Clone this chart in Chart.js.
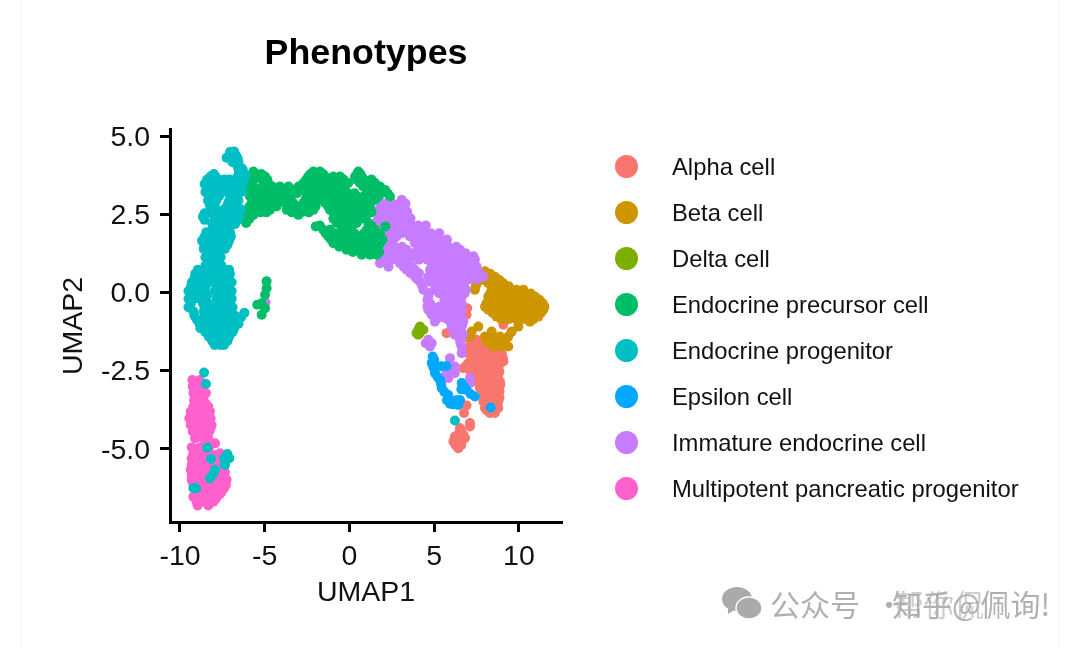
<!DOCTYPE html>
<html>
<head>
<meta charset="utf-8">
<title>Phenotypes</title>
<script src="https://cdn.jsdelivr.net/npm/chart.js@4"></script>
<style>
    html, body { margin: 0; padding: 0; background: #fff; }
    #page { position: relative; width: 1036px; height: 648px; margin-left: 20px; background: #fff; overflow: hidden; border-left: 2px solid #fafafa; border-right: 2px solid #fafafa; }
    #plot { position: absolute; left: -22px; top: 0; width: 732px; height: 648px; }
    #legend { position: absolute; left: 593px; top: 143px; font: 23.8px "Liberation Sans", Arial, sans-serif; color: #111; }
    #legend div { display: flex; align-items: center; height: 46px; white-space: nowrap; }
    #legend i { width: 23px; height: 23px; border-radius: 50%; margin-right: 34px; }
    #legend span { position: relative; top: 1px; }
    #mark { position: absolute; left: 748px; top: 583px; font: 30px "Noto Sans CJK SC", sans-serif; color: #b0b0b0; white-space: nowrap; line-height: 40px; }
    #mark span { position: absolute; top: 0; }
    #icon { position: absolute; left: 700px; top: 586px; }
</style>
</head>
<body>
<div id="page">
    <div id="plot"><canvas id="umap"></canvas></div>
    <div id="legend"></div>
    <svg id="icon" width="42" height="36" viewBox="0 0 42 36">
        <ellipse cx="15" cy="13" rx="15" ry="12" fill="#aaa"/>
        <path d="M6 20 L6 28 L14 23 Z" fill="#aaa"/>
        <ellipse cx="27" cy="22" rx="13" ry="11" fill="#aaa" stroke="#fff" stroke-width="1.5"/>
    </svg>
    <div id="mark">
        <span style="left:0">公众号</span>
        <span style="left:104px">·</span>
        <span style="left:122px">知乎@佩询!</span>
        <span style="left:124px;opacity:.6">帮你侃</span>
    </div>
</div>

<script>
const chartTitle = "Phenotypes";
const xAxisTitle = "UMAP1";
const yAxisTitle = "UMAP2";
const xTicks = [-10, -5, 0, 5, 10];
const yTicks = [-5, -2.5, 0, 2.5, 5];

const categories = [
    "Alpha cell", "Beta cell", "Delta cell", "Endocrine precursor cell",
    "Endocrine progenitor", "Epsilon cell", "Immature endocrine cell",
    "Multipotent pancreatic progenitor"
];
const colors = ["#F8766D", "#CD9600", "#7CAE00", "#00BE67", "#00BFC4", "#00A9FF", "#C77CFF", "#FF61CC"];
// lower number is painted on top
const paintOrder = [7, 6, 5, 3, 0, 1, 4, 2];

const alphaCell = [
    [6.95,-0.5],[6.91,-0.71],[9.08,-1.03],[5.73,-1.3],[7.11,-1.51],[7.5,-1.51],[9.08,-1.51],
    [7.11,-1.73],[7.5,-1.73],[7.99,-1.73],[7.01,-1.94],[7.5,-1.94],[7.99,-1.94],[8.49,-1.94],[8.98,-1.94],
    [7.11,-2.21],[7.6,-2.21],[8.09,-2.21],[8.58,-2.21],[9.08,-2.21],[6.72,-2.42],[7.21,-2.42],[7.7,-2.42],[8.19,-2.42],[8.68,-2.42],
    [7.4,-2.64],[7.9,-2.64],[8.39,-2.64],[8.78,-2.64],[7.5,-2.85],[7.99,-2.85],[8.49,-2.85],[8.88,-2.85],
    [7.7,-3.06],[8.19,-3.06],[8.68,-3.06],[7.9,-3.28],[8.39,-3.28],[8.78,-3.28],[7.9,-3.49],[8.39,-3.49],[8.78,-3.49],
    [7.99,-3.7],[8.49,-3.7],[8.78,-3.7],[8.29,-3.86],[8.58,-3.86],
    [6.91,-3.62],[6.76,-3.86],[7.11,-4.18],[7.11,-4.29],[6.52,-4.34],[6.72,-4.56],[6.22,-4.61],[6.82,-4.66],[6.13,-4.77],[6.52,-4.77],[6.42,-4.99],
    [7.3,-1.62],[7.75,-1.62],[7.3,-1.85],[7.75,-1.85],[8.25,-1.85],[8.7,-1.85],[7.25,-2.08],[7.75,-2.08],[8.3,-2.08],[8.8,-2.08],[9.05,-2.08],
    [6.95,-2.3],[7.45,-2.3],[7.95,-2.3],[8.4,-2.3],[8.85,-2.3],[7.15,-2.53],[7.65,-2.53],[8.15,-2.53],[8.6,-2.53],[8.85,-2.53],
    [7.25,-2.75],[7.75,-2.75],[8.2,-2.75],[8.7,-2.75],[7.7,-2.95],[8.2,-2.95],[8.65,-2.95],[8.9,-2.95],[7.95,-3.17],[8.45,-3.17],[8.85,-3.17],
    [8.1,-3.38],[8.6,-3.38],[8.85,-3.38],[8.2,-3.6],[8.65,-3.6],[8.1,-3.78],[8.4,-3.78],[6.4,-4.7],[6.65,-4.7],[6.25,-4.88],[6.6,-4.88],[6.5,-4.45],[6.6,-4.45]
];
const betaCell = [
    [7.99,0.68],[8.19,0.51],[8.58,0.51],[7.5,0.3],[8.19,0.3],[8.68,0.3],[9.08,0.3],
    [7.4,0.09],[8.39,0.09],[8.88,0.09],[9.37,0.09],[9.86,0.09],[10.26,0.09],
    [8.19,-0.13],[8.58,-0.13],[9.08,-0.13],[9.57,-0.13],[10.06,-0.13],[10.55,-0.13],[10.95,-0.13],
    [8.09,-0.34],[8.58,-0.34],[9.08,-0.34],[9.57,-0.34],[10.06,-0.34],[10.55,-0.34],[11.04,-0.34],[11.4,-0.34],
    [8.19,-0.55],[8.68,-0.55],[9.18,-0.55],[9.67,-0.55],[10.16,-0.55],[10.65,-0.55],[11.14,-0.55],[11.44,-0.55],
    [8.68,-0.77],[9.18,-0.77],[9.67,-0.77],[10.26,-0.77],[10.75,-0.77],[11.14,-0.77],[9.96,-0.93],[10.65,-0.93],
    [7.6,-1.09],[9.96,-1.09],[7.21,-1.25],[8.39,-1.25],[9.57,-1.25],
    [7.11,-1.41],[7.99,-1.41],[8.49,-1.41],[8.88,-1.41],[9.37,-1.41],[8.09,-1.57],[8.58,-1.57],[9.08,-1.57],
    [8.49,-1.73],[8.98,-1.73],[9.37,-1.73],
    [8.3,0.6],[7.7,0.4],[8.0,0.4],[8.45,0.4],[8.85,0.4],[7.45,0.2],[8.6,0.2],[9.0,0.2],[9.4,0.2],
    [8.3,-0.03],[8.8,-0.03],[9.3,-0.03],[9.75,-0.03],[10.2,-0.03],[10.7,-0.03],
    [8.35,-0.23],[8.8,-0.23],[9.3,-0.23],[9.8,-0.23],[10.3,-0.23],[10.8,-0.23],[11.2,-0.23],
    [8.0,-0.45],[8.4,-0.45],[8.9,-0.45],[9.4,-0.45],[9.9,-0.45],[10.4,-0.45],[10.85,-0.45],[11.3,-0.45],[11.5,-0.45],
    [8.45,-0.65],[8.95,-0.65],[9.4,-0.65],[9.9,-0.65],[10.4,-0.65],[10.9,-0.65],[11.3,-0.65],
    [8.95,-0.85],[9.4,-0.85],[9.85,-0.85],[10.4,-0.85],[10.85,-0.85],[8.3,-1.5],[8.75,-1.5],[9.2,-1.5],[8.75,-1.65],[9.2,-1.65]
];
const deltaCell = [[4.16,-1.09],[3.96,-1.3],[4.36,-1.19],[4.06,-1.35],[4.25,-1.2],[4.15,-1.3],[4.05,-1.2]];
const endocrinePrecursor = [
    [-5.67,3.88],[-2.13,3.88],[-1.74,3.88],[0.52,3.88],
    [-5.44,3.72],[-4.98,3.72],[-2.43,3.72],[-1.93,3.72],[-1.44,3.72],[-0.95,3.72],[-0.56,3.72],[0.33,3.72],[0.72,3.72],
    [-5.87,3.51],[-4.79,3.51],[-2.72,3.51],[-2.23,3.51],[-1.74,3.51],[-1.15,3.51],[-0.56,3.51],[-0.07,3.51],[0.62,3.51],[1.11,3.51],[1.51,3.51],
    [-5.97,3.29],[-5.38,3.29],[-4.89,3.29],[-3.9,3.29],[-3.31,3.29],[-2.82,3.29],[-2.33,3.29],[-1.74,3.29],[-0.95,3.29],[-0.46,3.29],[1.02,3.29],[1.61,3.29],[2.1,3.29],
    [-5.87,3.08],[-5.28,3.08],[-4.69,3.08],[-3.9,3.08],[-3.47,3.08],[-2.33,3.08],[-1.93,3.08],[-1.35,3.08],[-0.76,3.08],[-0.17,3.08],[0.43,3.08],[0.82,3.08],[1.7,3.08],[2.39,3.08],
    [-5.77,2.87],[-5.08,2.87],[-4.49,2.87],[-3.8,2.87],[-3.31,2.87],[-2.72,2.87],[-2.23,2.87],[-1.44,2.87],[-0.95,2.87],[-0.36,2.87],[0.23,2.87],[0.92,2.87],
    [-6.03,2.65],[-5.48,2.65],[-4.69,2.65],[-3.7,2.65],[-3.12,2.65],[-2.62,2.65],[-2.13,2.65],[-1.15,2.65],[-0.56,2.65],[0.03,2.65],[0.62,2.65],[1.11,2.65],
    [-6.16,2.49],[-5.67,2.49],[-3.02,2.49],[-0.85,2.49],[-0.26,2.49],[0.33,2.49],[1.02,2.49],
    [-6.1,2.23],[-0.76,2.23],[-0.17,2.23],[0.43,2.23],[1.11,2.23],[-1.99,2.12],[2.12,2.12],
    [-1.54,2.01],[-1.15,2.01],[-0.46,2.01],[0.13,2.01],[1.02,2.01],[1.51,2.01],
    [-1.25,1.8],[-0.66,1.8],[-0.07,1.8],[0.52,1.8],[1.21,1.8],[1.61,1.8],
    [-0.95,1.58],[-0.36,1.58],[0.23,1.58],[0.82,1.58],[1.31,1.58],[1.8,1.58],
    [-0.17,1.37],[0.43,1.37],[1.02,1.37],[1.51,1.37],[0.72,1.21],[1.21,1.21],[1.61,1.21],
    [-4.89,0.36],[-4.89,0.14],[-4.98,-0.07],[-5.18,-0.34],[-5.44,-0.39],[-4.98,-0.5],[-5.18,-0.71],
    [-5.55,3.8],[-5.2,3.8],[-2.3,3.8],[-1.9,3.8],[-1.55,3.8],[0.45,3.8],[0.65,3.8],
    [-5.7,3.62],[-5.2,3.62],[-4.85,3.62],[-2.55,3.62],[-2.1,3.62],[-1.65,3.62],[-1.2,3.62],[-0.75,3.62],[-0.35,3.62],[0.4,3.62],[0.85,3.62],[1.3,3.62],
    [-5.65,3.4],[-5.1,3.4],[-4.55,3.4],[-4.1,3.4],[-3.6,3.4],[-3.0,3.4],[-2.5,3.4],[-2.0,3.4],[-1.45,3.4],[-0.75,3.4],[-0.25,3.4],[0.8,3.4],[1.35,3.4],[1.8,3.4],
    [-5.6,3.18],[-5.0,3.18],[-4.4,3.18],[-4.2,3.18],[-3.65,3.18],[-3.1,3.18],[-2.55,3.18],[-2.05,3.18],[-1.55,3.18],[-1.1,3.18],[-0.55,3.18],[-0.1,3.18],[0.3,3.18],[1.3,3.18],[1.9,3.18],[2.25,3.18],
    [-5.55,2.97],[-4.95,2.97],[-4.4,2.97],[-4.1,2.97],[-3.65,2.97],[-2.6,2.97],[-2.1,2.97],[-1.6,2.97],[-1.1,2.97],[-0.5,2.97],[0.1,2.97],[0.6,2.97],[1.1,2.97],[1.5,2.97],
    [-5.9,2.76],[-5.3,2.76],[-4.75,2.76],[-4.3,2.76],[-3.5,2.76],[-3.0,2.76],[-2.45,2.76],[-2.0,2.76],[-1.25,2.76],[-0.7,2.76],[-0.1,2.76],[0.45,2.76],[1.2,2.76],
    [-5.85,2.57],[-5.25,2.57],[-4.9,2.57],[-3.4,2.57],[-2.85,2.57],[-2.4,2.57],[-0.95,2.57],[-0.4,2.57],[0.15,2.57],[0.75,2.57],[1.3,2.57],
    [-5.9,2.37],[-0.95,2.37],[-0.45,2.37],[0.1,2.37],[0.7,2.37],[-1.75,2.15],[-0.3,2.15],[0.1,2.15],[1.3,2.15],
    [-1.4,1.9],[-0.9,1.9],[-0.3,1.9],[0.3,1.9],[0.85,1.9],[1.35,1.9],[1.8,1.9],
    [-1.1,1.7],[-0.5,1.7],[0.15,1.7],[0.7,1.7],[1.0,1.7],[1.45,1.7],[1.95,1.7],
    [-0.6,1.47],[0.0,1.47],[0.6,1.47],[1.2,1.47],[1.7,1.47],[0.2,1.3],[0.75,1.3],[1.25,1.3],[1.75,1.3]
];
const endocrineProgenitor = [
    [-7.05,4.5],[-6.8,4.52],[-7.25,4.32],[-6.95,4.28],[-6.6,4.3],[-6.65,4.1],[-6.4,4.0],
    [-8.0,3.8],[-6.5,3.85],[-6.2,3.8],
    [-8.4,3.62],[-8.05,3.62],[-7.75,3.62],[-7.4,3.62],[-7.1,3.62],[-6.75,3.62],[-6.45,3.62],
    [-8.4,3.35],[-8.1,3.35],[-7.8,3.35],[-7.45,3.35],[-7.15,3.35],[-6.8,3.35],[-6.5,3.35],
    [-8.3,3.09],[-8.0,3.09],[-7.7,3.09],[-7.0,3.09],[-6.7,3.09],
    [-8.25,2.81],[-7.95,2.81],[-7.2,2.81],[-6.9,2.81],
    [-8.55,2.54],[-8.35,2.54],[-7.8,2.54],[-7.5,2.54],[-7.15,2.54],[-6.8,2.54],[-6.6,2.54],
    [-8.55,2.33],[-7.95,2.33],[-7.6,2.33],[-7.3,2.33],[-6.9,2.33],[-6.6,2.33],
    [-8.05,2.06],[-7.7,2.06],[-7.4,2.06],[-7.1,2.06],
    [-8.55,1.79],[-8.2,1.79],[-7.9,1.79],[-7.6,1.79],[-7.25,1.79],[-7.0,1.79],
    [-8.55,1.53],[-8.2,1.53],[-7.85,1.53],[-7.5,1.53],[-7.2,1.53],
    [-8.4,1.26],[-8.05,1.26],[-7.75,1.26],[-8.3,1.0],[-7.95,1.0],[-7.7,1.0],
    [-8.95,0.73],[-8.6,0.73],[-8.25,0.73],[-7.9,0.73],[-7.65,0.73],[-7.1,0.73],
    [-9.15,0.46],[-8.8,0.46],[-8.5,0.46],[-8.1,0.46],[-7.75,0.46],[-7.45,0.46],
    [-9.35,0.19],[-9.05,0.19],[-8.75,0.19],[-8.5,0.19],[-7.85,0.19],[-7.55,0.19],[-7.1,0.19],
    [-9.35,-0.08],[-9.05,-0.08],[-8.7,-0.08],[-8.4,-0.08],[-7.75,-0.08],[-7.4,-0.08],[-7.15,-0.08],
    [-9.35,-0.34],[-8.65,-0.34],[-8.35,-0.34],[-7.65,-0.34],[-7.35,-0.34],[-7.1,-0.34],
    [-9.2,-0.61],[-8.6,-0.61],[-8.3,-0.61],[-8.0,-0.61],[-7.7,-0.61],[-7.3,-0.61],[-7.0,-0.61],[-6.2,-0.65],[-6.4,-0.8],
    [-9.0,-0.87],[-8.65,-0.87],[-8.3,-0.87],[-8.0,-0.87],[-7.6,-0.87],[-7.25,-0.87],[-6.9,-0.87],[-6.6,-0.87],
    [-8.8,-1.14],[-8.4,-1.14],[-8.05,-1.14],[-7.7,-1.14],[-7.4,-1.14],[-7.05,-1.14],[-6.8,-1.14],
    [-8.3,-1.41],[-8.05,-1.41],[-7.7,-1.41],[-7.35,-1.41],[-7.1,-1.41],[-7.95,-1.68],[-7.6,-1.68],[-7.4,-1.68],
    [-7.0,4.4],[-6.7,4.4],[-6.9,4.18],[-6.55,4.18],[-6.55,3.95],[-6.3,3.95],[-8.2,3.72],[-7.9,3.72],[-6.6,3.72],[-6.3,3.72],[-6.15,3.72],
    [-8.55,3.48],[-8.25,3.48],[-7.95,3.48],[-7.6,3.48],[-7.3,3.48],[-6.95,3.48],[-6.6,3.48],[-6.3,3.48],
    [-8.5,3.22],[-8.2,3.22],[-7.9,3.22],[-7.55,3.22],[-7.25,3.22],[-6.9,3.22],[-6.6,3.22],[-6.35,3.22],
    [-8.35,2.95],[-8.1,2.95],[-7.85,2.95],[-7.1,2.95],[-6.85,2.95],[-6.55,2.95],
    [-8.15,2.67],[-7.9,2.67],[-7.4,2.67],[-7.0,2.67],[-6.7,2.67],[-6.4,2.67],
    [-8.65,2.43],[-7.65,2.43],[-7.4,2.43],[-7.05,2.43],[-6.75,2.43],[-6.5,2.43],
    [-8.1,2.2],[-7.85,2.2],[-7.55,2.2],[-7.2,2.2],[-6.95,2.2],[-6.75,2.2],
    [-8.45,1.93],[-8.15,1.93],[-7.85,1.93],[-7.55,1.93],[-7.3,1.93],[-7.05,1.93],
    [-8.7,1.66],[-8.35,1.66],[-8.05,1.66],[-7.75,1.66],[-7.4,1.66],[-7.1,1.66],
    [-8.6,1.4],[-8.25,1.4],[-7.95,1.4],[-7.65,1.4],[-7.35,1.4],[-8.5,1.13],[-8.2,1.13],[-7.9,1.13],[-7.6,1.13],
    [-8.5,0.87],[-8.15,0.87],[-7.8,0.87],[-7.55,0.87],
    [-9.1,0.6],[-8.75,0.6],[-8.4,0.6],[-8.0,0.6],[-7.7,0.6],[-7.35,0.6],[-7.05,0.6],
    [-9.3,0.33],[-8.95,0.33],[-8.6,0.33],[-8.3,0.33],[-7.95,0.33],[-7.65,0.33],[-7.3,0.33],[-6.95,0.33],
    [-9.5,0.05],[-9.2,0.05],[-8.9,0.05],[-8.55,0.05],[-7.95,0.05],[-7.6,0.05],[-7.25,0.05],[-6.95,0.05],
    [-9.5,-0.2],[-9.2,-0.2],[-8.85,-0.2],[-8.5,-0.2],[-7.85,-0.2],[-7.55,-0.2],[-7.25,-0.2],[-6.95,-0.2],
    [-9.5,-0.47],[-8.55,-0.47],[-8.2,-0.47],[-7.85,-0.47],[-7.5,-0.47],[-7.2,-0.47],[-6.9,-0.47],
    [-9.15,-0.74],[-8.5,-0.74],[-8.15,-0.74],[-7.85,-0.74],[-7.45,-0.74],[-7.1,-0.74],[-6.75,-0.74],
    [-8.85,-1.0],[-8.5,-1.0],[-8.15,-1.0],[-7.8,-1.0],[-7.45,-1.0],[-7.1,-1.0],[-6.75,-1.0],[-6.55,-1.0],
    [-8.5,-1.27],[-8.2,-1.27],[-7.85,-1.27],[-7.55,-1.27],[-7.2,-1.27],[-6.9,-1.27],[-8.1,-1.55],[-7.85,-1.55],[-7.5,-1.55],[-7.2,-1.55],
    // strays inside the other clusters
    [6.22,-4.1],[-8.58,-2.56],[-8.47,-2.93],[-8.39,-4.97],[-8.17,-5.33],[-7.93,-5.68],[-8.07,-5.84],[-8.23,-5.95],
    [-7.21,-5.17],[-7.4,-5.31],[-7.09,-5.31],[-7.34,-5.52],[-9.05,-6.27],[-9.21,-6.27]
];
const epsilonCell = [
    [4.91,-2.05],[4.85,-2.26],[5.14,-2.37],[5.73,-2.35],[5.04,-2.58],[5.34,-2.8],[5.44,-3.06],[5.83,-3.28],
    [5.93,-3.56],[6.42,-3.6],[6.52,-3.44],[6.62,-2.9],[6.91,-3.12],[7.4,-3.33],[8.33,-3.68],
    [5.0,-2.15],[4.95,-2.4],[5.4,-2.36],[5.2,-2.7],[5.4,-2.93],[5.6,-3.18],[6.1,-3.58],[6.3,-3.45],[6.75,-3.0],[7.15,-3.25],[5.75,-3.45],[6.6,-3.1]
];
const immatureEndocrine = [
    [1.31,3.08],[3.08,2.97],[1.8,2.7],[2.29,2.7],[2.78,2.7],[3.18,2.7],[1.8,2.49],[2.29,2.49],[2.78,2.49],[3.27,2.49],
    [1.6,2.28],[2.09,2.28],[2.59,2.28],[3.08,2.28],[3.57,2.28],[2.29,2.01],[2.78,2.01],[3.27,2.01],[3.86,2.01],[4.36,2.01],
    [1.9,1.8],[2.39,1.8],[2.78,1.8],[3.57,1.8],[4.06,1.8],[4.55,1.8],[5.04,1.8],
    [1.98,1.58],[2.49,1.58],[3.86,1.58],[4.36,1.58],[4.85,1.58],[5.34,1.58],[5.73,1.58],
    [2.39,1.37],[2.88,1.37],[3.37,1.37],[4.06,1.37],[4.55,1.37],[5.04,1.37],[5.54,1.37],[6.13,1.37],[6.52,1.37],
    [1.8,1.16],[2.29,1.16],[2.78,1.16],[3.27,1.16],[3.86,1.16],[4.36,1.16],[4.85,1.16],[5.34,1.16],[5.83,1.16],[6.32,1.16],[6.91,1.16],[7.31,1.16],
    [1.8,0.94],[2.98,0.94],[3.47,0.94],[4.85,0.94],[5.34,0.94],[5.83,0.94],[6.32,0.94],[6.82,0.94],[7.31,0.94],
    [3.37,0.73],[3.86,0.73],[4.75,0.73],[5.24,0.73],[5.73,0.73],[6.22,0.73],[6.72,0.73],[7.21,0.73],[7.5,0.73],
    [3.86,0.51],[4.65,0.51],[5.24,0.51],[5.73,0.51],[6.22,0.51],[6.72,0.51],[7.31,0.51],[7.9,0.51],
    [4.16,0.35],[4.75,0.35],[5.34,0.35],[5.83,0.35],[6.32,0.35],[6.82,0.35],
    [4.36,0.09],[5.04,0.09],[5.54,0.09],[6.03,0.09],[6.52,0.09],[6.87,0.09],
    [4.65,-0.13],[5.63,-0.13],[6.13,-0.13],[6.62,-0.13],[4.75,-0.34],[5.83,-0.34],[6.32,-0.34],[6.62,-0.34],
    [4.65,-0.55],[5.04,-0.55],[5.54,-0.55],[6.13,-0.55],[6.62,-0.55],[4.85,-0.71],[5.44,-0.71],[6.03,-0.71],[6.52,-0.71],
    [5.04,-0.93],[5.93,-0.93],[6.42,-0.93],[6.72,-0.93],[6.03,-1.14],[6.52,-1.14],[6.22,-1.35],[6.72,-1.35],
    [4.65,-1.51],[6.52,-1.51],[4.75,-1.73],[6.62,-1.73],[6.62,-1.94],[5.93,-2.1],[6.22,-2.37],[5.73,-2.58],[6.22,-2.58],[5.83,-2.74],[7.11,-2.74],[7.11,-2.9],
    [-4.95,-0.31],
    [2.0,2.85],[2.55,2.85],[3.0,2.85],[3.3,2.85],[1.6,2.6],[2.05,2.6],[2.55,2.6],[3.0,2.6],[3.4,2.6],[1.75,2.38],[2.2,2.38],[2.7,2.38],[3.2,2.38],[3.6,2.38],
    [1.55,2.15],[2.1,2.15],[2.55,2.15],[3.0,2.15],[3.5,2.15],[4.05,2.15],[4.5,2.15],[2.15,1.9],[2.6,1.9],[3.1,1.9],[3.75,1.9],[4.25,1.9],[4.8,1.9],[5.3,1.9],
    [1.7,1.7],[2.2,1.7],[2.6,1.7],[4.35,1.7],[4.8,1.7],[5.3,1.7],[5.75,1.7],[2.15,1.47],[2.65,1.47],[3.1,1.47],[4.2,1.47],[4.75,1.47],[5.25,1.47],[5.8,1.47],[6.3,1.47],
    [2.1,1.26],[2.6,1.26],[3.15,1.26],[3.7,1.26],[4.3,1.26],[4.8,1.26],[5.3,1.26],[5.85,1.26],[6.35,1.26],[6.85,1.26],
    [2.0,1.05],[2.5,1.05],[3.0,1.05],[3.5,1.05],[4.1,1.05],[4.6,1.05],[5.1,1.05],[5.6,1.05],[6.1,1.05],[6.6,1.05],[7.1,1.05],[7.4,1.05],
    [2.3,0.83],[3.2,0.83],[3.7,0.83],[5.1,0.83],[5.6,0.83],[6.1,0.83],[6.55,0.83],[7.05,0.83],[7.5,0.83],
    [3.6,0.62],[4.1,0.62],[5.0,0.62],[5.5,0.62],[6.0,0.62],[6.5,0.62],[7.0,0.62],[7.35,0.62],[7.7,0.62],
    [4.0,0.43],[4.9,0.43],[5.5,0.43],[6.0,0.43],[6.45,0.43],[7.05,0.43],[7.55,0.43],
    [4.3,0.22],[5.2,0.22],[5.75,0.22],[6.25,0.22],[6.7,0.22],[4.7,-0.02],[5.3,-0.02],[5.85,-0.02],[6.35,-0.02],[6.8,-0.02],
    [4.6,-0.24],[5.6,-0.24],[6.1,-0.24],[6.5,-0.24],[4.6,-0.45],[4.85,-0.45],[5.3,-0.45],[5.85,-0.45],[6.4,-0.45],
    [4.8,-0.63],[5.3,-0.63],[5.8,-0.63],[6.3,-0.63],[5.2,-0.82],[5.65,-0.82],[6.2,-0.82],[6.6,-0.82],[6.25,-1.05],[6.65,-1.05],[6.4,-1.25],[6.6,-1.25],
    [4.5,-1.62],[4.85,-1.62],[6.55,-1.62],[6.0,-2.6],[5.95,-2.45]
];
const multipotentProgenitor = [
    [-9.27,-2.8],[-8.82,-2.8],[-9.25,-3.01],[-8.86,-3.01],[-9.21,-3.22],[-8.82,-3.22],[-8.47,-3.22],[-9.17,-3.44],[-8.72,-3.44],
    [-9.21,-3.65],[-8.82,-3.65],[-8.33,-3.65],[-9.37,-3.81],[-8.92,-3.81],[-8.43,-3.81],[-8.23,-3.81],
    [-9.45,-4.03],[-9.02,-4.03],[-8.52,-4.03],[-8.19,-4.03],[-9.37,-4.24],[-8.92,-4.24],[-8.47,-4.24],[-8.13,-4.24],
    [-9.25,-4.45],[-8.82,-4.45],[-8.27,-4.45],[-9.11,-4.67],[-8.62,-4.67],[-8.33,-4.67],[-8.43,-4.83],[-7.93,-4.83],
    [-9.31,-4.96],[-8.82,-4.96],[-9.21,-5.15],[-8.72,-5.15],[-7.64,-5.15],[-7.84,-5.2],
    [-9.31,-5.31],[-8.82,-5.31],[-8.43,-5.31],[-7.74,-5.31],[-9.31,-5.52],[-8.92,-5.52],[-8.43,-5.52],[-7.64,-5.52],[-7.44,-5.57],
    [-9.37,-5.68],[-8.92,-5.68],[-8.47,-5.68],[-7.64,-5.68],[-9.31,-5.84],[-8.82,-5.84],[-8.43,-5.84],[-7.54,-5.84],
    [-9.31,-6.0],[-8.82,-6.0],[-7.74,-6.0],[-7.25,-6.0],[-9.21,-6.16],[-8.72,-6.16],[-8.23,-6.16],[-7.64,-6.16],[-7.29,-6.16],
    [-8.82,-6.38],[-8.33,-6.38],[-7.84,-6.38],[-7.54,-6.38],[-9.21,-6.54],[-8.72,-6.54],[-8.23,-6.54],[-7.84,-6.54],
    [-9.02,-6.7],[-8.52,-6.7],[-8.03,-6.7],[-8.96,-6.82],[-8.33,-6.82],
    [-9.05,-2.9],[-9.05,-3.1],[-8.7,-3.1],[-9.0,-3.33],[-8.6,-3.33],[-9.0,-3.55],[-8.5,-3.55],[-9.05,-3.73],[-8.6,-3.73],
    [-9.2,-3.92],[-8.75,-3.92],[-8.35,-3.92],[-9.25,-4.13],[-8.8,-4.13],[-8.35,-4.13],[-9.05,-4.35],[-8.65,-4.35],[-8.2,-4.35],[-9.0,-4.55],[-8.55,-4.55],
    [-9.05,-5.05],[-8.55,-5.05],[-8.3,-5.05],[-9.0,-5.22],[-8.5,-5.22],[-8.1,-5.22],[-9.1,-5.42],[-8.65,-5.42],[-8.2,-5.42],[-7.5,-5.42],
    [-9.15,-5.6],[-8.7,-5.6],[-8.2,-5.6],[-7.85,-5.6],[-9.1,-5.76],[-8.65,-5.76],[-8.2,-5.76],[-7.8,-5.76],[-7.35,-5.76],
    [-9.1,-5.92],[-8.6,-5.92],[-8.0,-5.92],[-7.5,-5.92],[-9.05,-6.08],[-8.5,-6.08],[-8.0,-6.08],[-7.45,-6.08],
    [-8.6,-6.27],[-8.1,-6.27],[-7.7,-6.27],[-7.4,-6.27],[-9.0,-6.46],[-8.5,-6.46],[-8.05,-6.46],[-7.65,-6.46],[-8.85,-6.62],[-8.35,-6.62],[-7.9,-6.62]
];
const seriesPoints = [
    alphaCell, betaCell, deltaCell, endocrinePrecursor,
    endocrineProgenitor, epsilonCell, immatureEndocrine, multipotentProgenitor
];

// legend sits beside the plot, so it is built as plain elements
const legendBox = document.getElementById("legend");
categories.forEach((name, i) => {
    const row = document.createElement("div");
    const dot = document.createElement("i");
    const label = document.createElement("span");
    dot.style.background = colors[i];
    label.textContent = name;
    row.appendChild(dot);
    row.appendChild(label);
    legendBox.appendChild(row);
});

const axisFont = { family: "'Liberation Sans', Arial, sans-serif", size: 28.5 };

// centre the title over the plotting area instead of the whole canvas
const titleOverPlot = {
    id: "titleOverPlot",
    afterLayout(chart) {
        chart.titleBlock.left = chart.chartArea.left;
        chart.titleBlock.right = chart.chartArea.right;
    }
};

new Chart(document.getElementById("umap"), {
    type: "scatter",
    data: {
        datasets: categories.map((name, i) => ({
            label: name,
            data: seriesPoints[i].map(([x, y]) => ({ x, y })),
            backgroundColor: colors[i],
            borderWidth: 0,
            pointRadius: 5,
            order: paintOrder[i]
        }))
    },
    plugins: [titleOverPlot],
    options: {
        responsive: true,
        maintainAspectRatio: false,
        animation: false,
        layout: { padding: { left: 50, right: 170, bottom: 36 } },
        plugins: {
            legend: { display: false },
            tooltip: { enabled: false },
            title: {
                display: true,
                text: chartTitle,
                color: "#000",
                font: { family: "'Liberation Sans', Arial, sans-serif", size: 35.8, weight: "bold" },
                padding: { top: 33, bottom: 54 }
            }
        },
        scales: {
            x: {
                type: "linear",
                min: -10.59,
                max: 12.54,
                afterBuildTicks: (axis) => { axis.ticks = xTicks.map((value) => ({ value })); },
                afterFit: (axis) => { axis.height = 90; },
                border: { color: "#000", width: 3 },
                grid: { drawOnChartArea: false, tickLength: 10, tickWidth: 3, tickColor: "#000" },
                ticks: { color: "#111", font: axisFont, padding: 8, maxRotation: 0 },
                title: { display: true, text: xAxisTitle, color: "#111", font: axisFont, padding: { top: 4, bottom: 2 } }
            },
            y: {
                type: "linear",
                min: -7.35,
                max: 5.21,
                afterBuildTicks: (axis) => { axis.ticks = yTicks.map((value) => ({ value })); },
                afterFit: (axis) => { axis.width = 120; },
                border: { color: "#000", width: 3 },
                grid: { drawOnChartArea: false, tickLength: 10, tickWidth: 3, tickColor: "#000" },
                ticks: { color: "#111", font: axisFont, padding: 10, labelOffset: 2, callback: (value) => value.toFixed(1) },
                title: { display: true, text: yAxisTitle, color: "#111", font: axisFont, padding: { top: 7, bottom: 8 } }
            }
        }
    }
});
</script>
</body>
</html>
